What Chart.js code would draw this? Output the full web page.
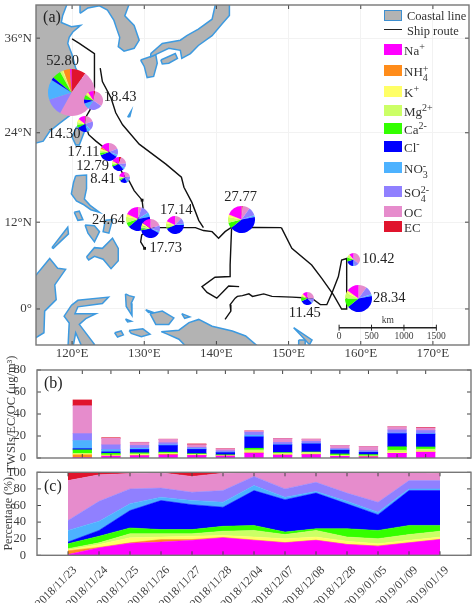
<!DOCTYPE html>
<html>
<head>
<meta charset="UTF-8">
<title>Ship route aerosol composition</title>
<script src="https://cdn.jsdelivr.net/npm/chart.js"></script>
<style>
html,body{margin:0;background:#fff;}
#page{position:relative;width:474px;height:603px;overflow:hidden;font-family:"Liberation Serif",serif;color:#333;}
canvas{position:absolute;}
.sw{position:absolute;left:384px;width:18px;height:10.5px;}
.lb{position:absolute;left:404px;font-size:13px;line-height:14px;white-space:nowrap;}
.lb sup,.lb sub{font-size:10px;line-height:0;}
.st{display:inline-block;vertical-align:middle;line-height:9px;font-size:10px;margin-top:-1px;}
.st span{display:block;}
</style>
</head>
<body>
<div id="page">
<canvas id="map" width="474" height="360" style="left:0;top:0"></canvas>
<canvas id="bars" width="474" height="135" style="left:0;top:345px"></canvas>
<canvas id="areas" width="474" height="139" style="left:0;top:464px"></canvas>
</div>

<script>
const dates = ['2018/11/23','2018/11/24','2018/11/25','2018/11/26','2018/11/27','2018/11/28','2018/12/04','2018/12/07','2018/12/08','2018/12/28','2019/01/05','2019/01/09','2019/01/19'];
const totals = [52.80,18.43,14.30,17.11,12.79,8.41,24.64,17.73,17.14,11.45,10.42,28.34,27.77];

// percent of each species per sample
const naPct  = [1,9,14.5,16,18,21,18,15,18,13,11,15,19];
const nh4Pct = [4.5,.5,.5,3,1,.5,.5,.3,.3,.2,.2,.2,.2];
const kPct   = [1,3.5,6,3,4,2.5,3.5,4.7,3.7,3.8,2.8,2.8,2.8];
const mgPct  = [1.5,2,5,4,3,5,8,5,8,5,6,7,7];
const caPct  = [6,8,7,5,5,6,6,3,2,10,10,11,7];
const clPct  = [2,7,21,35,30,23,42,39,43,30,19,42,42];
const no3Pct = [14,11,8,4,5,6,6,3,2,3,3,2,2];
const so4Pct = [12,24,18,11,10,14,11,10,11,10,12,10,10];
const ocPct  = [48,32,18.5,18.5,19,21,4.5,19.5,11.7,24.7,35.7,9.7,8.5];
const ecPct  = [10,3,1.5,.5,5,1,.5,.5,.3,.3,.3,.3,1.5];

const speciesPct = [naPct,nh4Pct,kPct,mgPct,caPct,clPct,no3Pct,so4Pct,ocPct,ecPct];
const speciesNames = ['Na+','NH4+','K+','Mg2+','Ca2-','Cl-','NO3-','SO42-','OC','EC'];
const speciesColors = ['#ff00ff','#ff8c1a','#ffff66','#ccff66','#33ff00','#0000ff','#4db2ff','#9080ff','#e68ccc','#e0142d'];

// sample positions on the map
const sampleLon = [119.85,123,121.85,125.15,126.45,127.2,129.1,130.9,134.25,152.6,159.05,159.65,143.5];
const sampleLat = [29.15,28.15,25.2,21.5,19.85,18.1,12.45,11.1,11.55,1.4,6.9,1.5,12.4];

// coastlines, [lon, lat]
const landChina = [[114,41],[119.7,41],[118.7,38.75],[118.5,37.9],[119.9,37.4],[121.2,37.55],[120.1,36.75],[119.6,36.1],[119.4,35.35],[120,33.95],[120.5,32.3],[121.5,30.6],[122,28.5],[121,27.2],[119.9,26.4],[118.3,25.25],[116.9,24.2],[116,22.9],[114,22.4]];
const landKorea = [[121.1,39],[122.2,39.65],[123.8,39.9],[124.9,39.4],[125.8,38.15],[126.2,37.1],[126.6,36.1],[126.4,34.95],[127.2,34.4],[128.6,34.75],[129.3,35.75],[128.6,37.55],[127.3,38.7],[128.3,41],[121.1,41]];
const landHonshu = [[130.9,34.1],[132.5,35.35],[135,35.75],[135.9,36.3],[137.5,37.1],[139.4,38.3],[140.1,41],[141.8,41],[141.8,38.75],[140.8,37.75],[139.4,36.3],[137.5,35.1],[136.4,34.1],[135.2,33.5],[135,34.5],[133.4,34.75],[130.9,33.7]];
const landShikoku = [[132.3,33.3],[134.3,34.1],[134.6,33.5],[133.4,32.9],[132.5,32.8]];
const landKyushu = [[129.5,33.3],[131.6,33.95],[131.8,32.9],[131.3,31.25],[130.4,31.1],[130,32.5]];
const landTaiwan = [[121.4,25],[121.7,24.15],[121,22.4],[120.5,22.4],[120,23.45],[120.6,24.7]];
const landOkinawa = [[127.7,26.05],[128.2,26.85],[128,26.1]];
const landLuzon = [[120.5,18.3],[122,18.4],[122,16.55],[121.7,15.15],[122.5,14.3],[123.8,13.35],[122.6,13.7],[121.5,14.45],[120.6,14.9],[119.9,15.85],[120.2,17.4]];
const landMindoro = [[120.3,13.35],[121,13.5],[121.5,12.35],[120.8,12.25]];
const landPanay = [[121.8,11.6],[123.1,11.5],[123.8,10.7],[123.1,9.3],[122.2,10.5]];
const landSamar = [[124.6,12.25],[125.6,12.35],[125.1,10.5],[124.3,10.7]];
const landMindanao = [[122,7.2],[123.1,8.5],[124.2,8.4],[125.6,9.8],[126.4,8.4],[126.4,6.7],[125.4,5.6],[124.3,6.9],[123.1,7.3],[122.3,6.8]];
const landPalawan = [[117.2,8.5],[119.4,11.3],[119.5,10.4],[117.4,8.4]];
const landBorneo = [[114,4.4],[115,4.7],[116.9,7],[118,5.65],[119.1,5.5],[117.6,3.35],[117.8,1.3],[116.2,-.3],[116.1,-3.3],[114,-4.6]];
const landSulawesi = [[119.9,.5],[120.8,1.2],[125.05,1.65],[124.2,.75],[120.8,.3],[120.4,-.65],[123.3,-.65],[121.9,-1.35],[121,-2.15],[123.1,-4.9],[121.7,-6],[120.5,-3.3],[120,-6],[119.4,-6],[119.6,-1.95],[118.9,-1]];
const landHalmahera = [[127.4,2.1],[127.9,1.85],[128.6,1.65],[128.2,.8],[128.3,-.9],[127.5,.35]];
const landWaigeo = [[130.2,-.1],[131.2,-.45],[130.6,-.5]];
const landBiak = [[135.2,-.65],[136.3,-1.1],[135.6,-1.3]];
const landObi = [[127.4,-1.4],[128.2,-1.7],[127.7,-1.8]];
const landSeram = [[127.9,-3],[129.8,-2.75],[130.8,-3.5],[129.6,-3.85],[128.2,-3.4]];
const landBuru = [[125.9,-3.3],[126.8,-3.05],[127.1,-3.6],[126.3,-3.9]];
const landBirdHead = [[130.8,-.65],[132.5,-.3],[134.1,-1.25],[133.4,-2.15],[131.6,-2.15]];
const landGuinea = [[132.35,-3.15],[134.8,-2.95],[136.2,-1.9],[137.55,-1.45],[139.4,-2.4],[142.2,-3.05],[144.05,-3.75],[145.7,-5.15],[146,-7],[137.55,-7],[134.8,-4.2],[133.2,-3.5]];
const landBritain = [[150.7,-2.6],[153.25,-4.3],[152.9,-4.95],[151.6,-3.55]];
const landBritain2 = [[151.4,-4.3],[152.3,-4.3],[152.3,-6],[151.4,-6]];
const allLand = [landChina,landKorea,landHonshu,landShikoku,landKyushu,landTaiwan,landOkinawa,landLuzon,landMindoro,landPanay,landSamar,landMindanao,landPalawan,landBorneo,landSulawesi,landHalmahera,landWaigeo,landBiak,landObi,landSeram,landBuru,landBirdHead,landGuinea,landBritain,landBritain2];

// ship track legs, [lon, lat]
const routeWest = [[120,35.9],[121,35.35],[123.1,34.1],[123.1,29.8],[122.85,28.5],[122.5,27],[122,26.2],[121.8,25.2],[122.3,23.75],[123.3,22.9],[125.15,21.5],[126.3,19.85],[127.2,18.3],[127.9,17.6],[128.6,16.3],[129.7,15],[129.9,13.35],[129.1,12.45],[130.9,11.1],[129.65,10.25],[129.5,9.3],[130.05,8.4]];
const routeAlong12N = [[130.9,11.25],[134.2,11.25],[137.1,11.25],[138.2,10.85],[139.4,10.7],[140.3,9.8],[141.2,10.7],[142.1,11.3],[149,11.25]];
const routeNorth = [[123.9,32.3],[124.2,30.6],[125.4,28.5],[126.05,26.6],[127,25.05],[129.3,22.5],[133,19.85],[135.15,18.1],[135.5,16.75],[136.6,14.7],[137.55,12.25],[138.2,11.25]];
const routeEast = [[149,11.25],[150.45,8.4],[153.2,6.1],[154.6,4.25],[156.2,2],[157.35,0],[158.05,0],[158.05,7],[157.35,6.8],[156.9,4.5],[156,2.2],[155.3,.6],[154.4,.6],[153.2,1.5],[150.5,1.65],[147.7,1.75],[146.55,2.1],[145,1.75],[144.5,2.1],[143.6,1.85],[142.9,1.75],[142.6,1.5],[141.9,.6],[142,-.3],[141.2,-1.45]];
const routeSouth = [[142.1,11.15],[141.9,6.1],[141.9,4.5],[139.8,4.4],[138,3.1],[138.7,2.3],[140.05,1.5],[141.7,3.2],[143.15,3.1]];
const allRoutes = [routeWest,routeAlong12N,routeNorth,routeEast,routeSouth];
const routeStops = [[129.7,15],[130.05,8.4]];

const lonTicks = [120,130,140,150,160,170];
const latTicks = [0,12,24,36];
const latTickLabels = ['0°','12°N','24°N','36°N'];
const scaleKm = [0,500,1000,1500];

const serif = '"Liberation Serif", serif';
const axisGrey = '#777';
const textDark = '#3c3c3c';

Chart.defaults.animation = false;
Chart.defaults.responsive = false;
Chart.defaults.font.family = serif;
Chart.defaults.color = textDark;
Chart.defaults.plugins.legend.display = false;
Chart.defaults.plugins.tooltip.enabled = false;

// the map's latitude spacing widens to the north
function proj(lat) { return lat + 3.49e-5 * lat * lat * lat; }
const toXY = p => ({ x: p[0], y: proj(p[1]) });

// pin an axis thickness and drop the label overhang chart.js reserves
function pinAxis(size) {
  return s => {
    if (s.isHorizontal()) s.height = size; else s.width = size;
    s.paddingTop = s.paddingBottom = s.paddingLeft = s.paddingRight = 0;
  };
}

// ticks point inward on all four sides, and the frame is grey
const frameTicks = {
  id: 'frameTicks',
  afterDatasetsDraw(chart) {
    const { ctx, chartArea: a, scales } = chart;
    ctx.save();
    ctx.strokeStyle = '#444';
    ctx.lineWidth = 1;
    ctx.beginPath();
    scales.x.ticks.forEach(t => {
      const x = scales.x.getPixelForValue(t.value);
      ctx.moveTo(x, a.top); ctx.lineTo(x, a.top + 4);
      ctx.moveTo(x, a.bottom); ctx.lineTo(x, a.bottom - 4);
    });
    scales.y.ticks.forEach(t => {
      const y = scales.y.getPixelForValue(t.value);
      ctx.moveTo(a.left, y); ctx.lineTo(a.left + 4, y);
      ctx.moveTo(a.right, y); ctx.lineTo(a.right - 4, y);
    });
    ctx.stroke();
    ctx.strokeStyle = axisGrey;
    ctx.lineWidth = 1.4;
    ctx.strokeRect(a.left, a.top, a.right - a.left, a.bottom - a.top);
    ctx.restore();
  }
};

// offset of each value label from its pie, same order as dates
const labelOffset = [[-8.4,-31.7],[26.4,-3.3],[-21.3,10.6],[-25.7,0],[-26,1.7],[-21,2.3],[-29.4,1],[15,19],[1.3,-15.7],[-2.6,14.3],[24.4,-.3],[31,-.3],[-1,-22.3]];

const mapTexts = {
  id: 'mapTexts',
  afterDatasetsDraw(chart) {
    const { ctx, scales: { x, y } } = chart;
    ctx.save();
    ctx.textAlign = 'center';
    ctx.textBaseline = 'middle';
    ctx.fillStyle = '#222';
    ctx.font = '14.5px ' + serif;
    totals.forEach((v, i) => {
      ctx.fillText(v.toFixed(2), x.getPixelForValue(sampleLon[i]) + labelOffset[i][0], y.getPixelForValue(proj(sampleLat[i])) + labelOffset[i][1]);
    });
    ctx.font = '16px ' + serif;
    ctx.fillText('(a)', 52, 18);
    // km scale bar texts
    ctx.fillStyle = textDark;
    ctx.font = '9.5px ' + serif;
    const barY = y.getPixelForValue(proj(-2.6));
    scaleKm.forEach(km => ctx.fillText(String(km), x.getPixelForValue(157 + km / 111.3), barY + 8.5));
    ctx.fillText('km', x.getPixelForValue(157 + 750 / 111.3), barY - 7.5);
    ctx.restore();
  }
};

const mapDatasets = [];
allLand.forEach(shape => mapDatasets.push({
  data: shape.concat([shape[0]]).map(toXY),
  showLine: true, fill: 'shape', tension: 0, order: 3,
  backgroundColor: '#b3b3b3', borderColor: '#3d9ae0', borderWidth: 1.5, pointRadius: 0
}));
allRoutes.forEach(leg => mapDatasets.push({
  data: leg.map(toXY),
  showLine: true, fill: false, tension: 0, order: 2,
  borderColor: '#111', borderWidth: 1.4, pointRadius: 0
}));
mapDatasets.push({
  data: routeStops.map(toXY), showLine: false, order: 2,
  pointStyle: 'rect', pointRadius: 2, backgroundColor: '#111', borderWidth: 0
});
mapDatasets.push({
  data: scaleKm.map(km => ({ x: 157 + km / 111.3, y: proj(-2.6) })),
  showLine: true, fill: false, order: 1, borderColor: '#222', borderWidth: 1.4,
  pointStyle: 'line', pointRotation: 90, pointRadius: 3, pointBorderColor: '#222', pointBorderWidth: 1
});

const mapChart = new Chart(document.getElementById('map'), {
  type: 'scatter',
  data: { datasets: mapDatasets },
  options: {
    layout: { padding: { top: 3, right: 3 } },
    scales: {
      x: {
        type: 'linear', min: 115, max: 175,
        afterBuildTicks: s => { s.ticks = lonTicks.map(v => ({ value: v })); },
        afterFit: pinAxis(15),
        ticks: { autoSkip: false, maxRotation: 0, padding: 1, font: { size: 13 }, callback: v => v + '°E' },
        grid: { color: '#f2f2f2', drawTicks: false }, border: { display: false }
      },
      y: {
        type: 'linear', min: proj(-5), max: proj(40),
        afterBuildTicks: s => { s.ticks = latTicks.map(v => ({ value: proj(v) })); },
        afterFit: pinAxis(36),
        ticks: { autoSkip: false, padding: 4, font: { size: 13 }, callback: (v, i) => latTickLabels[i] },
        grid: { color: '#f2f2f2', drawTicks: false }, border: { display: false }
      }
    }
  },
  plugins: [frameTicks, mapTexts]
});

// one small pie per sample, placed with the map's own scales
const page = document.getElementById('page');
dates.forEach((d, i) => {
  const r = Math.round((0.41 * totals[i] + 1) * 2) / 2;
  const c = document.createElement('canvas');
  c.width = c.height = 2 * r + 2;
  c.style.left = (mapChart.scales.x.getPixelForValue(sampleLon[i]) - r - 1) + 'px';
  c.style.top = (mapChart.scales.y.getPixelForValue(proj(sampleLat[i])) - r - 1) + 'px';
  page.appendChild(c);
  new Chart(c, {
    type: 'pie',
    data: {
      labels: speciesNames.slice().reverse(),
      datasets: [{
        data: speciesPct.map(s => s[i]).reverse(),
        backgroundColor: speciesColors.slice().reverse(),
        borderWidth: 0
      }]
    },
    options: { layout: { padding: 0 } }
  });
});

const xIndexTicks = s => { s.ticks = dates.map((d, i) => ({ value: i })); };

const panelLetter = (id, text, x, y) => ({
  id: id,
  afterDatasetsDraw(chart) {
    const { ctx, chartArea: a } = chart;
    ctx.save();
    ctx.fillStyle = '#222';
    ctx.font = '16px ' + serif;
    ctx.textAlign = 'left';
    ctx.textBaseline = 'middle';
    ctx.fillText(text, a.left + x, a.top + y);
    ctx.restore();
  }
});

new Chart(document.getElementById('bars'), {
  type: 'bar',
  data: {
    datasets: speciesPct.map((s, k) => ({
      data: s.map((p, i) => ({ x: i, y: totals[i] * p / 100 })),
      backgroundColor: speciesColors[k],
      barThickness: 18.6,
      stack: 'all'
    }))
  },
  options: {
    layout: { padding: { top: 25, right: 3 } },
    scales: {
      x: {
        type: 'linear', min: -1, max: 13, stacked: true,
        afterBuildTicks: xIndexTicks,
        afterFit: pinAxis(22),
        ticks: { display: false },
        grid: { display: false }, border: { display: false }
      },
      y: {
        min: 0, max: 80, stacked: true,
        afterFit: pinAxis(37),
        ticks: { stepSize: 20, autoSkip: false, padding: 3, font: { size: 12.5 } },
        grid: { display: false }, border: { display: false },
        title: { display: true, text: 'TWSIs/EC/OC (μg/m³)', font: { size: 12.5 }, padding: { top: 4, bottom: 0 } }
      }
    }
  },
  plugins: [frameTicks, panelLetter('letterB', '(b)', 7, 14)]
});

new Chart(document.getElementById('areas'), {
  type: 'line',
  data: {
    datasets: speciesPct.map((s, k) => ({
      data: s.map((p, i) => ({ x: i, y: p })),
      backgroundColor: speciesColors[k],
      borderColor: speciesColors[k],
      borderWidth: 0.5,
      fill: k === 0 ? 'origin' : '-1',
      tension: 0,
      pointRadius: 0
    }))
  },
  options: {
    layout: { padding: { top: 8.3, right: 3 } },
    scales: {
      x: {
        type: 'linear', min: -1, max: 13,
        afterBuildTicks: xIndexTicks,
        afterFit: pinAxis(47.7),
        ticks: { autoSkip: false, minRotation: 45, maxRotation: 45, padding: 0, labelOffset: 7, font: { size: 11.8 }, callback: (v, i) => dates[i] },
        grid: { display: false }, border: { display: false }
      },
      y: {
        min: 0, max: 100, stacked: true,
        afterFit: pinAxis(37),
        ticks: { stepSize: 20, autoSkip: false, padding: 3, font: { size: 12.5 } },
        grid: { display: false }, border: { display: false },
        title: { display: true, text: 'Percentage (%)', font: { size: 12 }, padding: { top: 2, bottom: 0 } }
      }
    }
  },
  plugins: [frameTicks, panelLetter('letterC', '(c)', 7, 14)]
});

// legend, plain HTML because of the stacked ion charges
const legendTop = [44,65,86,105,123,141,162,186,206,221];
const legendHtml = ['Na<sup>+</sup>','NH<span class="st"><span>+</span><span>4</span></span>','K<sup>+</sup>','Mg<sup>2+</sup>','Ca<sup>2-</sup>','Cl<sup>-</sup>','NO<span class="st"><span>-</span><span>3</span></span>','SO<span class="st"><span>2-</span><span>4</span></span>','OC','EC'];
speciesColors.forEach((col, i) => {
  const sw = document.createElement('div');
  sw.className = 'sw';
  sw.style.top = legendTop[i] + 'px';
  sw.style.background = col;
  page.appendChild(sw);
  const lb = document.createElement('div');
  lb.className = 'lb';
  lb.style.top = legendTop[i] + 'px';
  lb.innerHTML = legendHtml[i];
  page.appendChild(lb);
});
const coast = document.createElement('div');
coast.style.cssText = 'position:absolute;left:384px;top:9.5px;width:16px;height:9.5px;background:#b3b3b3;border:1.2px solid #3d8fd0;';
page.appendChild(coast);
const ship = document.createElement('div');
ship.style.cssText = 'position:absolute;left:384px;top:29px;width:18px;height:1.2px;background:#222;';
page.appendChild(ship);
[['Coastal line',9],['Ship route',23.5]].forEach(t => {
  const lb = document.createElement('div');
  lb.className = 'lb';
  lb.style.left = '407px';
  lb.style.top = t[1] + 'px';
  lb.style.fontSize = '12.5px';
  lb.textContent = t[0];
  page.appendChild(lb);
});
</script>
</body>
</html>
